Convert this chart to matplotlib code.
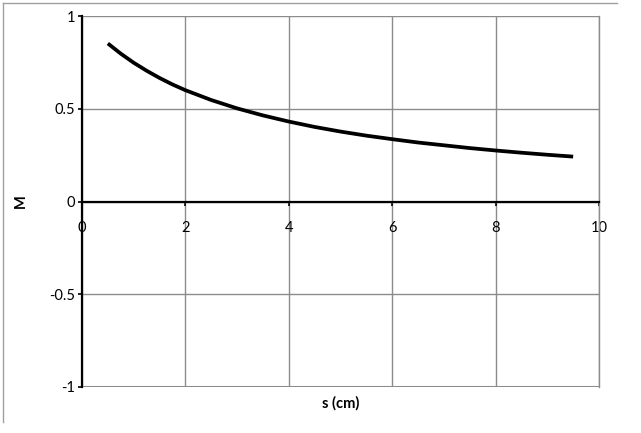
import matplotlib.pyplot as plt
from matplotlib.lines import Line2D

# values
s_cm = [0.5, 0.75, 1.0, 1.25, 1.5, 1.75, 2.0, 2.5, 3.0, 3.5, 4.0, 4.5, 5.0,
        5.5, 6.0, 6.5, 7.0, 7.5, 8.0, 8.5, 9.0, 9.5]
M_vals = [0.852, 0.797, 0.748, 0.705, 0.666, 0.631, 0.600, 0.547, 0.502, 0.464,
          0.431, 0.402, 0.377, 0.355, 0.336, 0.318, 0.303, 0.288, 0.275, 0.263,
          0.252, 0.242]
x_ticks = [0, 2, 4, 6, 8, 10]
y_ticks = [-1, -0.5, 0, 0.5, 1]
y_labels = ['-1', '-0.5', '0', '0.5', '1']

plt.rcParams['font.family'] = ['Lato', 'DejaVu Sans']

fig = plt.figure(figsize=(6.41, 4.33), dpi=100)
ax = fig.add_axes([82/641, 1 - 387/433, (599-82)/641, (387-16)/433])

ax.plot(s_cm, M_vals, color='black', lw=2.7, solid_capstyle='butt', solid_joinstyle='round')

ax.set_xlim(0, 10)
ax.set_ylim(-1, 1)
ax.set_xticks(x_ticks)
ax.set_yticks(y_ticks)
ax.set_yticklabels(y_labels)
ax.grid(True, color='#8c8c8c', lw=1)
ax.set_axisbelow(True)

ax.spines['bottom'].set_position(('data', 0))
ax.spines['bottom'].set_linewidth(1.6)
ax.spines['left'].set_linewidth(1.6)
ax.spines['top'].set_visible(False)
ax.spines['right'].set_color('#8c8c8c')
ax.spines['right'].set_linewidth(1)
# bottom edge at -1
ax.axhline(-1, color='#8c8c8c', lw=1.5)

ax.tick_params(axis='x', direction='out', length=3, width=1.2, pad=11, labelsize=10.5, colors='black')
ax.tick_params(axis='y', direction='out', length=3, width=1.2, pad=2, labelsize=10.5)

ax.set_xlabel('s (cm)', fontsize=10.5, fontweight='bold')
ax.xaxis.set_label_coords(0.5, -0.025)
ax.set_ylabel('M', fontsize=10.5, fontweight='bold')
ax.yaxis.set_label_coords(-0.105, 0.5)

# outer frame
fig.add_artist(Line2D([3/641, 617/641], [1 - 3/433, 1 - 3/433], color='#a0a0a0', lw=1, transform=fig.transFigure))
fig.add_artist(Line2D([3/641, 3/641], [1 - 3/433, 1 - 422/433], color='#a0a0a0', lw=1, transform=fig.transFigure))

fig.savefig('out.png', dpi=100)
